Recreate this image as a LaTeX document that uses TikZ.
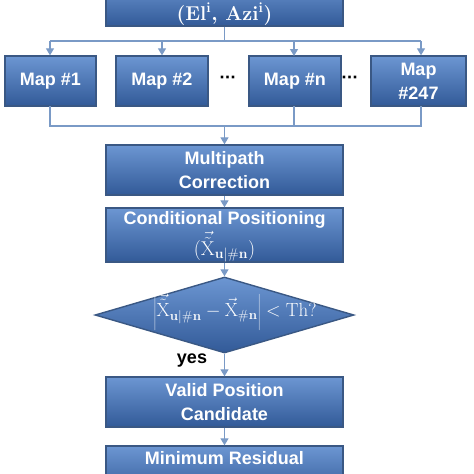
\RequirePackage{fix-cm}
\documentclass[tikz,border=0pt]{standalone}
\usepackage[no-math]{fontspec}
\setmainfont{Liberation Sans}
\usetikzlibrary{arrows.meta,shapes.geometric}
\definecolor{boxtop}{RGB}{108,150,210}
\definecolor{boxbot}{RGB}{50,90,152}
\definecolor{boxline}{RGB}{58,88,132}
\definecolor{conn}{RGB}{122,154,198}
\tikzset{
  box/.style={draw=boxline, line width=1.4pt, top color=boxtop, bottom color=boxbot,
    text=white, font=\bfseries\fontsize{18}{24}\selectfont, align=center, inner sep=0pt},
  wire/.style={draw=conn, line width=1.3pt},
  arr/.style={wire, -{Triangle[width=8pt,length=7pt]}},
  dots/.style={font=\bfseries\fontsize{18}{20}\selectfont},
  mathtxt/.style={text=white, font=\fontsize{20}{24}\selectfont},
}
\begin{document}
\begin{tikzpicture}[x=1pt,y=-1pt]
\useasboundingbox (0,0) rectangle (474,474);
% top box
\node[box, minimum width=237pt, minimum height=46pt] (top) at (224.5,3) {};
\node[mathtxt, font=\fontsize{20}{24}\selectfont\boldmath] (toptxt) at (224.5,14) {$(\mathrm{El}^{\mathrm i},\, \mathrm{Azi}^{\mathrm i})$};
% maps
\node[box, minimum width=91pt, minimum height=50pt] (m1) at (50.5,81) {Map \#1};
\node[box, minimum width=92pt, minimum height=50pt] (m2) at (162,81) {Map \#2};
\node[box, minimum width=92pt, minimum height=50pt] (mn) at (295,81) {Map \#n};
\node[box, minimum width=95pt, minimum height=50pt] (m247) at (418.5,81) {Map\\\#247};
\node[dots] (d1) at (228,80) {·\kern-0.5pt·\kern-0.5pt·};
\node[dots] (d2) at (350,80) {·\kern-0.5pt·\kern-0.5pt·};
% process boxes
\node[box, minimum width=237pt, minimum height=50pt] (mp) at (224.5,170) {Multipath\\Correction};
\node[box, minimum width=237pt, minimum height=54pt] (cp) at (224.5,235) {};
\node[text=white, font=\bfseries\fontsize{18}{20}\selectfont] (cptxt) at (224.5,220) {Conditional Positioning};
\node[mathtxt] (cpmath) at (224.5,247) {$(\vec{\tilde{\mathrm X}}_{\mathbf{u|\#n}})$};
\node[box, diamond, minimum width=259pt, minimum height=76pt, aspect=3.4] (dm) at (224.5,315) {};
\node[mathtxt, font=\fontsize{19}{22}\selectfont] (dmtxt) at (235,312) {$\left|\vec{\tilde{\mathrm X}}_{\mathbf{u|\#n}} - \vec{\mathrm X}_{\mathbf{\#n}}\right| < \mathrm{Th?}$};
\node[font=\bfseries\fontsize{18}{20}\selectfont] (yes) at (192,361) {yes};
\node[box, minimum width=237pt, minimum height=50pt] (vp) at (224.5,402) {Valid Position\\Candidate};
\node[box, minimum width=237pt, minimum height=50pt] (mr) at (224.5,471) {};
\node[text=white, font=\bfseries\fontsize{18}{20}\selectfont] (mrtxt) at (224.5,458) {Minimum Residual};
% connectors
\coordinate (busT) at (224.5,41);
\coordinate (busB) at (224.5,126);
\draw[wire] (top.south) -- (busT);
\draw[wire] (50,41) coordinate (t1) -- (421,41) coordinate (t4);
\draw[arr] (t1) -- (t1 |- m1.north);
\draw[arr] (m2.north |- busT) -- (m2.north);
\draw[arr] (294,41) -- (294,56);
\draw[arr] (t4) -- (t4 |- m247.north);
\draw[wire] (50,106) -- (50,126) -- (421,126) -- (421,106);
\draw[wire] (294,106) -- (294,126);
\draw[arr] (busB) -- (mp.north);
\draw[arr] (mp.south) -- (cp.north);
\draw[arr] (cp.south) -- (dm.north);
\draw[arr] (dm.south) -- (vp.north);
\draw[arr] (vp.south) -- (mr.north);
\end{tikzpicture}
\end{document}
